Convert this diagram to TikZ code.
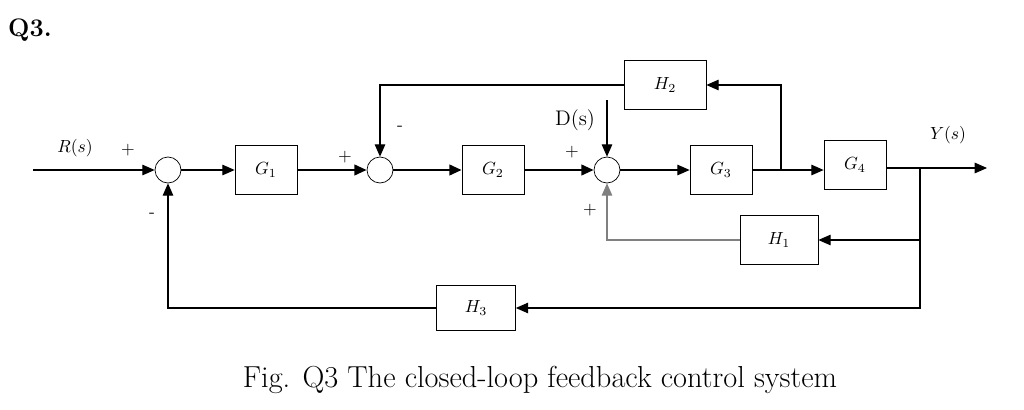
\documentclass[tikz,border=0pt]{standalone}
\usepackage{amsmath}
\usetikzlibrary{arrows.meta}
\tikzset{
  blk/.style={draw, minimum width=1.24cm, minimum height=0.98cm, inner sep=0pt},
  sumj/.style={draw, circle, minimum size=0.52cm, inner sep=0pt},
  sig/.style={-{Triangle[length=7pt,width=6pt]}, line width=0.6pt},
  bsig/.style={sig, line width=1.4pt}
}
\begin{document}
\begin{tikzpicture}[x=0.02cm,y=-0.02cm]
	\useasboundingbox (0,0) rectangle (1024,409);

	% blocks and summing junctions
	\node[sumj] (S1) at (168,170) {};
	\node[blk] (G1) at (266,170) {$G_1$};
	\node[sumj] (S2) at (380,170) {};
	\node[blk] (G2) at (493,170) {$G_2$};
	\node[sumj] (S3) at (607,170) {};
	\node[blk] (G3) at (721,170) {$G_3$};
	\node[blk] (G4) at (855,165) {$G_4$};
	\node[blk, minimum width=1.64cm] (H2) at (665,85) {$H_2$};
	\node[blk, minimum width=1.56cm] (H1) at (779,240) {$H_1$};
	\node[blk, minimum width=1.58cm, minimum height=0.9cm] (H3) at (476,308) {$H_3$};

	\coordinate (R) at (33,170);
	\coordinate (Y) at (987,168);
	\coordinate (B1) at (781,170);
	\coordinate (B2) at (920,168);
	\coordinate (D) at (607,100);

	% forward path
	\draw[sig] (R) -- (S1);
	\draw[sig] (S1) -- (G1);
	\draw[bsig] (G1) -- (S2);
	\draw[bsig] (S2) -- (G2);
	\draw[bsig] (G2) -- (S3);
	\draw[sig] (S3) -- (G3);
	\draw[sig] (G3.east |- B1) -- (G4.west |- B1);
	\draw[sig] (G4.east |- B2) -- (Y);
	\draw[sig] (D) -- (S3);

	% feedback paths
	\draw[sig] (B1) |- (H2.east);
	\draw[sig] (H2.west) -| (S2);
	\draw[sig] (B2) |- (H1.east);
	\draw[sig, gray] (H1.west) -| (S3);
	\draw[sig] (B2) |- (H3.east);
	\draw[sig] (H3.west) -| (S1);

	% labels
	\node[font=\bfseries\Large] at (30,30) {Q3.};
	\node at (75,148) {$R(s)$};
	\node at (128,150) {+};
	\node at (152,215) {-};
	\node at (345,157) {+};
	\node at (400,128) {-};
	\node at (572,152) {+};
	\node at (590,210) {+};
	\node[font=\large] at (575,120) {D(s)};
	\node at (948,135) {$Y(s)$};
	\node[font=\LARGE] at (540,380) {Fig. Q3 The closed-loop feedback control system};
\end{tikzpicture}
\end{document}
